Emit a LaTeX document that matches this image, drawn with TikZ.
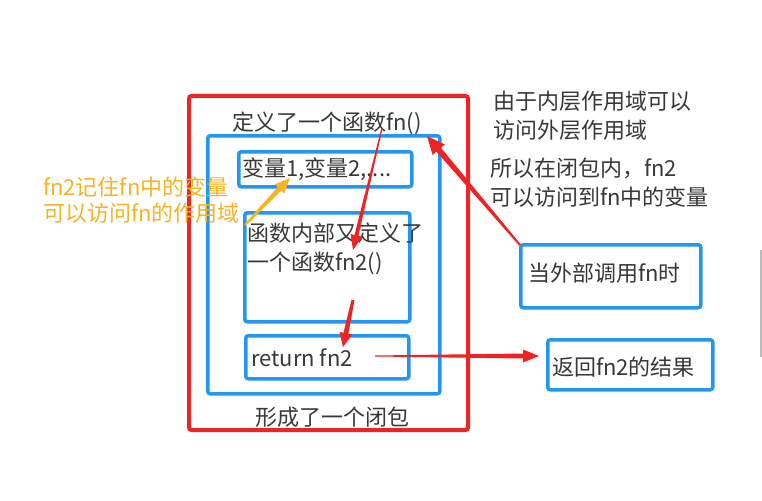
\documentclass[tikz,border=0pt]{standalone}
\usepackage{fontspec}
\setmainfont{Noto Sans CJK SC}
\usetikzlibrary{calc}
\definecolor{cred}{HTML}{EE2424}
\definecolor{cblue}{HTML}{2196F3}
\definecolor{corange}{HTML}{F6B322}
\definecolor{ctext}{HTML}{383838}
\definecolor{cgrey}{HTML}{BBBBBB}
% tapered arrow: #1 colour, #2 start, #3 end, #4 start half width, #5 end half width, #6 head length, #7 head half width
\newcommand\tarrow[7]{%
  \coordinate (tmph) at ($(#3)!#6!(#2)$);
  \fill[#1] ($(#2)!#4!90:(#3)$) -- ($(tmph)!#5!-90:(#2)$) -- ($(tmph)!#7!-90:(#2)$) -- (#3)
    -- ($(tmph)!#7!90:(#2)$) -- ($(tmph)!#5!90:(#2)$) -- ($(#2)!#4!-90:(#3)$) -- cycle;}
\begin{document}
\begin{tikzpicture}[x=1pt,y=-1pt,
  txt/.style={anchor=base west, inner sep=0pt, text=ctext, font=\fontsize{22}{28}\selectfont},
  otxt/.style={txt, text=corange},
  bbox/.style={draw=cblue, line width=3.5pt, rounded corners=2.5pt, anchor=north west, inner sep=0pt},
  rbox/.style={draw=cred, line width=4pt, rounded corners=2.5pt, anchor=north west, inner sep=0pt}]
\useasboundingbox (0,0) rectangle (762,500);
% boxes
\node[rbox, minimum width=279pt, minimum height=334pt] (closure) at (187,94) {};
\node[bbox, minimum width=232pt, minimum height=258pt] (fn) at (206,134) {};
\node[bbox, minimum width=173pt, minimum height=35pt] (vars) at (237,150) {};
\node[bbox, minimum width=165pt, minimum height=109pt] (inner) at (243,211) {};
\node[bbox, minimum width=163pt, minimum height=43pt] (ret) at (244,334) {};
\node[bbox, minimum width=180pt, minimum height=63pt] (call) at (519,243) {};
\node[bbox, minimum width=165pt, minimum height=50pt] (result) at (546,338) {};
% texts
\node[txt] (title) at (232,130) {定义了一个函数fn()};
\node[txt] (varst) at (242,176) {变量1,变量2,....};
\node[txt] (in1) at (247,241) {函数内部又定义了};
\node[txt] (in2) at (247,270) {一个函数fn2()};
\node[txt] (rett) at (251,366) {return fn2};
\node[txt] (clt) at (255,425) {形成了一个闭包};
\node[otxt] (o1) at (43,195) {fn2记住fn中的变量};
\node[otxt] (o2) at (43,221) {可以访问fn的作用域};
\node[txt] (r1) at (493,110) {由于内层作用域可以};
\node[txt] (r2) at (493,138) {访问外层作用域};
\node[txt] (r3) at (490,176) {所以在闭包内，fn2};
\node[txt] (r4) at (490,205) {可以访问到fn中的变量};
\node[txt] (callt) at (528,281) {当外部调用fn时};
\node[txt] (rest) at (552,375) {返回fn2的结果};
% faint grey mark on the right
\coordinate (g1) at (760.5,250);
\coordinate (g2) at (760.5,357);
\draw[cgrey, line width=2pt] (g1) -- (g2);
% arrows
\coordinate (a1s) at (382,128);
\coordinate (a1e) at (353,250);
\tarrow{cred}{a1s}{a1e}{0.6pt}{2pt}{15pt}{6pt}
\coordinate (a2s) at (353,300);
\coordinate (a2e) at (343,347);
\tarrow{cred}{a2s}{a2e}{1.5pt}{2.5pt}{14pt}{6.5pt}
\coordinate (a3s) at (375,356);
\coordinate (a3e) at (539,356);
\tarrow{cred}{a3s}{a3e}{0.5pt}{2.5pt}{16pt}{6.5pt}
\coordinate (a4s) at (520,245);
\coordinate (a4e) at (427,136);
\tarrow{cred}{a4s}{a4e}{1pt}{3pt}{18pt}{8pt}
\coordinate (a5s) at (245,225);
\coordinate (a5e) at (290,178);
\tarrow{corange}{a5s}{a5e}{1pt}{2.5pt}{15pt}{6.5pt}
\end{tikzpicture}
\end{document}
